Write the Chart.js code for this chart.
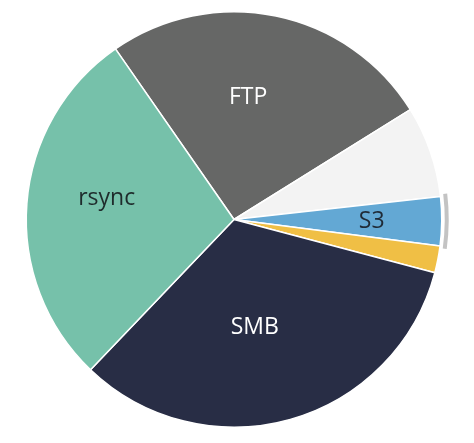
<!DOCTYPE html>
<html>
<head>
<meta charset="utf-8">
<script src="https://cdn.jsdelivr.net/npm/chart.js@4.4.0/dist/chart.umd.min.js"></script>
<style>
    html, body { margin: 0; padding: 0; background: #ffffff; }
    #wrap { width: 474px; height: 443px; }
</style>
</head>
<body>
<div id="wrap"><canvas id="protocolChart"></canvas></div>
<script>
// Slice data (percent share), clockwise from the rsync/FTP boundary
const labels = ['FTP', '', 'S3', '', 'SMB', 'rsync'];
const shares = [25.8, 7.1, 3.8, 2.1, 33.0, 28.2];

const colors = {
    ftp: '#666766',
    other: '#f3f3f3',
    s3: '#63a8d4',
    yellow: '#f0bf45',
    smb: '#282d45',
    rsync: '#76c1aa'
};
const textColors = ['#ffffff', '#222', '#1f2a36', '#222', '#ffffff', '#1e2b2b'];

// small pixel nudges for the label text, relative to the slice middle
const labelNudge = {
    FTP: [-11, 0],
    S3: [13, 1],
    SMB: [-13, -12],
    rsync: [-3, -11]
};

// Draw slice names inside the arcs
const sliceLabels = {
    id: 'sliceLabels',
    afterDatasetsDraw(chart) {
        const ctx = chart.ctx;
        const meta = chart.getDatasetMeta(0);
        ctx.save();
        ctx.font = '23px "Open Sans", sans-serif';
        ctx.textAlign = 'center';
        ctx.textBaseline = 'middle';
        meta.data.forEach(function (arc, i) {
            if (!labels[i]) return;
            const mid = (arc.startAngle + arc.endAngle) / 2;
            const r = arc.outerRadius * 0.6;
            const nudge = labelNudge[labels[i]] || [0, 0];
            ctx.fillStyle = textColors[i];
            ctx.fillText(labels[i],
                arc.x + Math.cos(mid) * r + nudge[0],
                arc.y + Math.sin(mid) * r + nudge[1]);
        });
        ctx.restore();
    }
};

// Grey highlight ring outside the S3 slice
const highlightRing = {
    id: 'highlightRing',
    afterDatasetsDraw(chart) {
        const arc = chart.getDatasetMeta(0).data[labels.indexOf('S3')];
        if (!arc) return;
        const ctx = chart.ctx;
        ctx.save();
        ctx.beginPath();
        ctx.arc(arc.x, arc.y, arc.outerRadius + 5, arc.startAngle - 0.01, arc.endAngle + 0.01);
        ctx.lineWidth = 4;
        ctx.strokeStyle = '#c3c3c3';
        ctx.stroke();
        ctx.restore();
    }
};

new Chart(document.getElementById('protocolChart'), {
    type: 'pie',
    data: {
        labels: labels,
        datasets: [{
            data: shares,
            backgroundColor: [colors.ftp, colors.other, colors.s3, colors.yellow, colors.smb, colors.rsync],
            borderColor: '#ffffff',
            borderWidth: 1.5
        }]
    },
    options: {
        responsive: true,
        maintainAspectRatio: false,
        animation: false,
        rotation: -34.8,
        layout: {
            padding: { left: 25, right: 31, top: 11, bottom: 15 }
        },
        plugins: {
            legend: { display: false },
            tooltip: { enabled: false }
        }
    },
    plugins: [sliceLabels, highlightRing]
});
</script>
</body>
</html>
